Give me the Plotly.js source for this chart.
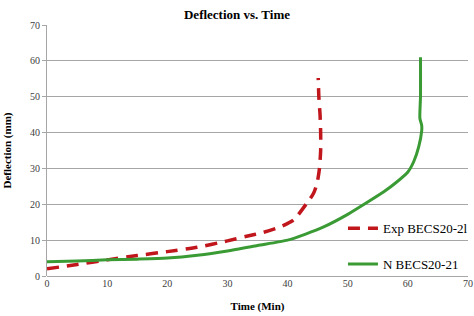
<!DOCTYPE html>
<html>
<head>
<meta charset="utf-8">
<script src="https://cdn.plot.ly/plotly-3.0.1.min.js"></script>
<style>html,body{margin:0;padding:0;background:#fff;}#chart{width:474px;height:316px;}</style>
</head>
<body>
<div id="chart"></div>
<script>
const expTime = [0, 5, 10, 15, 20, 25, 30, 33, 36, 38.8, 41, 43.2, 44.3, 44.9, 45.3, 45.5, 45.5, 45.4, 45.2, 45.1];
const expDefl = [2, 3.2, 4.5, 5.7, 6.8, 8, 9.8, 11, 12.2, 13.7, 15.6, 20.3, 23, 25.8, 30, 35, 40, 45, 50, 55.2];
const nTime = [0, 5, 10, 15, 20, 25, 30, 35, 40, 43, 46, 50, 53, 56, 58, 60, 61, 61.8, 62.3, 62.3, 62.0, 62.1, 62.1];
const nDefl = [4, 4.2, 4.5, 4.7, 5, 5.8, 7, 8.5, 10, 11.7, 13.7, 17.2, 20.3, 23.5, 26, 29, 32, 36, 40.5, 42, 44, 50, 61];
const seriesNames = ['Exp BECS20-2l', 'N BECS20-21'];
const xTicks = [0, 10, 20, 30, 40, 50, 60, 70];
const yTicks = [0, 10, 20, 30, 40, 50, 60, 70];

const serif = '"Liberation Serif", "Times New Roman", serif';
const traces = [
  {x: expTime, y: expDefl, mode: 'lines', name: seriesNames[0], legendgroup: 'a',
   line: {color: '#C0161C', width: 3.5, dash: '12px,8px', shape: 'spline', smoothing: 0.6}},
  {x: nTime, y: nDefl, mode: 'lines', name: seriesNames[1], legendgroup: 'b',
   line: {color: '#3A9B35', width: 3, shape: 'spline', smoothing: 0.6}}
];
const layout = {
  width: 474, height: 316,
  margin: {l: 47, r: 6, t: 25, b: 40, autoexpand: false},
  paper_bgcolor: '#fff', plot_bgcolor: '#fff',
  font: {family: serif},
  title: {text: '<b>Deflection vs. Time</b>', font: {family: serif, size: 13, color: '#000'}, x: 0.5, xanchor: 'center', y: 0.97, yanchor: 'top'},
  xaxis: {range: [0, 70], tickvals: xTicks, ticktext: xTicks.map(String), showgrid: false, zeroline: false,
    showline: false, ticks: '', tickfont: {family: serif, size: 10, color: '#404040'},
    title: {text: '<b>Time (Min)</b>', font: {family: serif, size: 11, color: '#000'}, standoff: 14}},
  yaxis: {range: [0, 70], tickvals: yTicks, ticktext: yTicks.map(String), showgrid: true, gridcolor: '#A6A6A6', gridwidth: 1,
    zeroline: true, zerolinecolor: '#A6A6A6', zerolinewidth: 1,
    showline: true, linecolor: '#A6A6A6', linewidth: 1, ticks: 'outside', ticklen: 4, tickcolor: '#A6A6A6',
    tickfont: {family: serif, size: 10, color: '#404040'},
    title: {text: '<b>Deflection (mm)</b>', font: {family: serif, size: 11, color: '#000'}, standoff: 16}},
  legend: {x: 0.703, y: 0.25, xanchor: 'left', yanchor: 'top', bgcolor: 'rgba(255,255,255,0)',
    font: {family: serif, size: 13, color: '#000'}, traceorder: 'grouped', tracegroupgap: 16},
  showlegend: true
};
Plotly.newPlot('chart', traces, layout, {staticPlot: true, displayModeBar: false});
</script>
</body>
</html>
